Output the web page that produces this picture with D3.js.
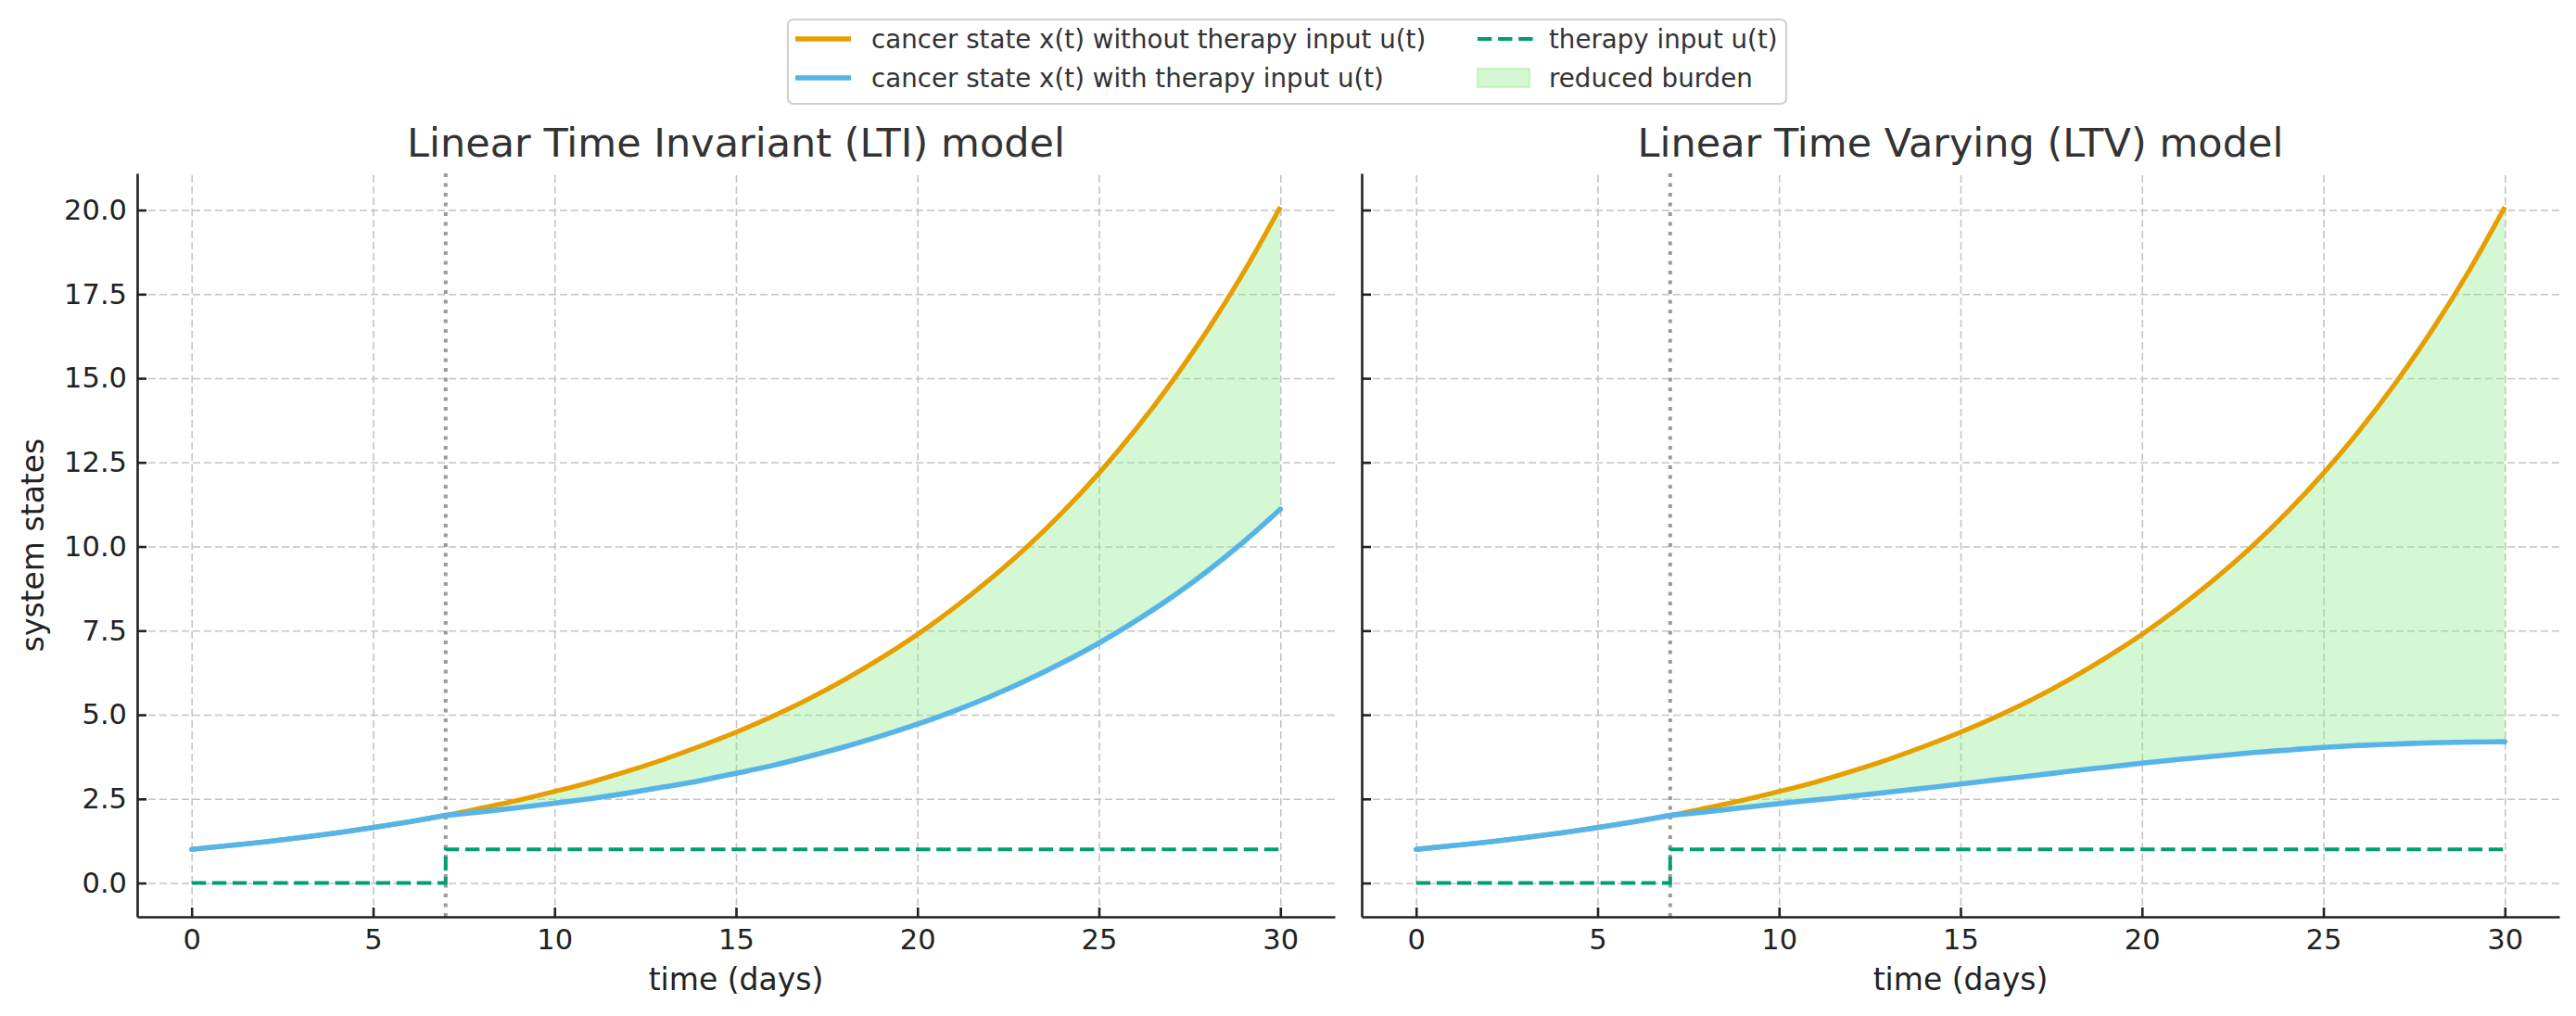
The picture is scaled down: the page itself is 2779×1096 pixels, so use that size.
<!DOCTYPE html>
<html>
    <head>
        <meta charset="utf-8">
        <style>
            body {
                margin: 0;
                background: #fff;
                font-family: "DejaVu Sans", sans-serif;
            }
            .grid line {
                stroke: #c4c4c4;
                stroke-width: 1.6;
                stroke-dasharray: 8,4;
            }
            .grid path { display: none; }
            .axis path, .axis line {
                stroke: #222;
                stroke-width: 2.6;
            }
            .axis text {
                font-size: 30.5px;
                fill: #222;
            }
            .title {
                font-size: 43px;
                fill: #333;
            }
            .label {
                font-size: 33px;
                fill: #222;
            }
            .legend text {
                font-size: 27.7px;
                fill: #333;
            }
        </style>
    </head>
    <body>
        <script src="https://d3js.org/d3.v7.min.js"></script>

        <script>
            // values
            const days = [0, 1, 2, 3, 4, 5, 6, 7, 8, 9, 10, 11, 12, 13, 14, 15,
                          16, 17, 18, 19, 20, 21, 22, 23, 24, 25, 26, 27, 28, 29, 30];
            const noTherapy = [1.00, 1.11, 1.22, 1.35, 1.49, 1.65, 1.82, 2.01, 2.23, 2.46,
                               2.72, 3.00, 3.32, 3.67, 4.06, 4.48, 4.95, 5.47, 6.05, 6.69,
                               7.39, 8.17, 9.03, 9.97, 11.02, 12.18, 13.46, 14.88, 16.44, 18.17, 20.09];
            const ltiTherapy = [1.00, 1.11, 1.22, 1.35, 1.49, 1.65, 1.82, 2.01, 2.12, 2.24,
                                2.37, 2.51, 2.67, 2.85, 3.04, 3.26, 3.49, 3.76, 4.05, 4.37,
                                4.72, 5.11, 5.54, 6.02, 6.55, 7.13, 7.78, 8.49, 9.28, 10.15, 11.11];
            const ltvTherapy = [1.00, 1.11, 1.22, 1.35, 1.49, 1.65, 1.82, 2.01, 2.12, 2.24,
                                2.36, 2.47, 2.58, 2.70, 2.82, 2.94, 3.07, 3.19, 3.32, 3.44,
                                3.56, 3.67, 3.77, 3.87, 3.95, 4.03, 4.09, 4.13, 4.17, 4.19, 4.20];
            const therapyInput = [0, 0, 0, 0, 0, 0, 0, 1, 1, 1, 1, 1, 1, 1, 1, 1,
                                  1, 1, 1, 1, 1, 1, 1, 1, 1, 1, 1, 1, 1, 1, 1];
            const therapyStart = 7;
            const panelTitles = ["Linear Time Invariant (LTI) model", "Linear Time Varying (LTV) model"];
            const withTherapy = [ltiTherapy, ltvTherapy];
            const xTicks = [0, 5, 10, 15, 20, 25, 30];
            const yTicks = [0, 2.5, 5, 7.5, 10, 12.5, 15, 17.5, 20];
            const legendLabels = ["cancer state x(t) without therapy input u(t)",
                                  "cancer state x(t) with therapy input u(t)",
                                  "therapy input u(t)",
                                  "reduced burden"];

            const colors = {orange: "#E69F00", blue: "#56B4E9", green: "#009E73",
                            fill: "rgba(144,238,144,0.4)", vline: "#9a9a9a"};

            function makeChart() {
                const width = 2779;
                const height = 1096;
                const top = 187, bottom = 989;
                const panelLefts = [148, 1469];
                const panelWidth = 1292;

                const svg = d3.select("body").append("svg")
                    .attr("width", width)
                    .attr("height", height);

                const yScale = d3.scaleLinear()
                    .domain([-1.004, 21.09])
                    .range([bottom, top]);

                const rows = days.map((d, i) => ({t: d, free: noTherapy[i], u: therapyInput[i]}));

                panelTitles.forEach((title, p) => {
                    const left = panelLefts[p];
                    const xScale = d3.scaleLinear()
                        .domain([-1.5, 31.5])
                        .range([left, left + panelWidth]);

                    const data = rows.map((r, i) => ({...r, ther: withTherapy[p][i]}));
                    const pre = data.filter(d => d.t <= therapyStart);
                    const post = data.filter(d => d.t >= therapyStart);

                    const g = svg.append("g");

                    // grid
                    g.append("g")
                        .attr("class", "grid")
                        .attr("transform", "translate(0," + bottom + ")")
                        .call(d3.axisBottom(xScale).tickValues(xTicks).tickSize(-(bottom - top)).tickFormat(""));
                    g.append("g")
                        .attr("class", "grid")
                        .attr("transform", "translate(" + left + ",0)")
                        .call(d3.axisLeft(yScale).tickValues(yTicks).tickSize(-panelWidth).tickFormat(""));

                    // therapy start marker
                    g.append("line")
                        .attr("x1", xScale(therapyStart)).attr("x2", xScale(therapyStart))
                        .attr("y1", top).attr("y2", bottom)
                        .attr("stroke", colors.vline)
                        .attr("stroke-width", 4)
                        .attr("stroke-dasharray", "4,6.5");

                    const area = d3.area()
                        .curve(d3.curveMonotoneX)
                        .x(d => xScale(d.t))
                        .y0(d => yScale(d.ther))
                        .y1(d => yScale(d.free));

                    g.append("path")
                        .attr("d", area(post))
                        .attr("fill", colors.fill);

                    const lineFree = d3.line()
                        .curve(d3.curveMonotoneX)
                        .x(d => xScale(d.t))
                        .y(d => yScale(d.free));
                    const lineTher = d3.line()
                        .curve(d3.curveMonotoneX)
                        .x(d => xScale(d.t))
                        .y(d => yScale(d.ther));

                    g.append("path")
                        .attr("d", lineFree(data))
                        .attr("fill", "none")
                        .attr("stroke", colors.orange)
                        .attr("stroke-width", 5.2);

                    g.append("path")
                        .attr("d", lineTher(pre) + lineTher(post))
                        .attr("fill", "none")
                        .attr("stroke", colors.blue)
                        .attr("stroke-width", 5.6)
                        .attr("stroke-linecap", "round")
                        .attr("stroke-linejoin", "round");

                    const stepLine = d3.line()
                        .curve(d3.curveStepAfter)
                        .x(d => xScale(d.t))
                        .y(d => yScale(d.u));

                    g.append("path")
                        .attr("d", stepLine(data))
                        .attr("fill", "none")
                        .attr("stroke", colors.green)
                        .attr("stroke-width", 4)
                        .attr("stroke-dasharray", "15.4,6.7");

                    // axes, ticks point inward
                    const xAxis = d3.axisBottom(xScale)
                        .tickValues(xTicks)
                        .tickSizeInner(-10)
                        .tickSizeOuter(0)
                        .tickPadding(13);
                    const yAxis = d3.axisLeft(yScale)
                        .tickValues(yTicks)
                        .tickSizeInner(-10)
                        .tickSizeOuter(0)
                        .tickPadding(11)
                        .tickFormat(p === 0 ? d3.format(".1f") : () => "");

                    g.append("g")
                        .attr("class", "axis")
                        .attr("transform", "translate(0," + bottom + ")")
                        .call(xAxis)
                        .call(s => s.selectAll("text").attr("font-family", null));
                    g.append("g")
                        .attr("class", "axis")
                        .attr("transform", "translate(" + left + ",0)")
                        .call(yAxis)
                        .call(s => s.selectAll("text").attr("font-family", null));
                    svg.selectAll(".axis").attr("font-family", null).attr("font-size", null);

                    g.append("text")
                        .attr("class", "title")
                        .attr("x", left + panelWidth / 2)
                        .attr("y", 169)
                        .attr("text-anchor", "middle")
                        .text(title);

                    g.append("text")
                        .attr("class", "label")
                        .attr("x", left + panelWidth / 2)
                        .attr("y", 1068)
                        .attr("text-anchor", "middle")
                        .text("time (days)");
                });

                svg.append("text")
                    .attr("class", "label")
                    .attr("transform", "translate(47," + (top + bottom) / 2 + ") rotate(-90)")
                    .attr("text-anchor", "middle")
                    .text("system states");

                // legend
                const legend = svg.append("g").attr("class", "legend");
                legend.append("rect")
                    .attr("x", 850).attr("y", 21)
                    .attr("width", 1077).attr("height", 91)
                    .attr("rx", 6)
                    .attr("fill", "#fff")
                    .attr("stroke", "#d0d0d0")
                    .attr("stroke-width", 2.2);

                const items = [
                    {x: 858, y: 42, type: "line", color: colors.orange},
                    {x: 858, y: 84, type: "line", color: colors.blue},
                    {x: 1594, y: 42, type: "dash", color: colors.green},
                    {x: 1594, y: 84, type: "patch", color: colors.fill}
                ];
                items.forEach((it, i) => {
                    if (it.type === "patch") {
                        legend.append("rect")
                            .attr("x", it.x).attr("y", it.y - 10)
                            .attr("width", 56).attr("height", 20)
                            .attr("fill", it.color)
                            .attr("stroke", "rgba(144,238,144,0.6)")
                            .attr("stroke-width", 1.5);
                    } else {
                        legend.append("line")
                            .attr("x1", it.x).attr("x2", it.x + 60)
                            .attr("y1", it.y).attr("y2", it.y)
                            .attr("stroke", it.color)
                            .attr("stroke-width", it.type === "dash" ? 4 : 5.6)
                            .attr("stroke-dasharray", it.type === "dash" ? "15.4,6.7" : null);
                    }
                    legend.append("text")
                        .attr("x", i < 2 ? 940 : 1671)
                        .attr("y", it.y + 10)
                        .text(legendLabels[i]);
                });
            }
            makeChart();
        </script>
    </body>
</html>
